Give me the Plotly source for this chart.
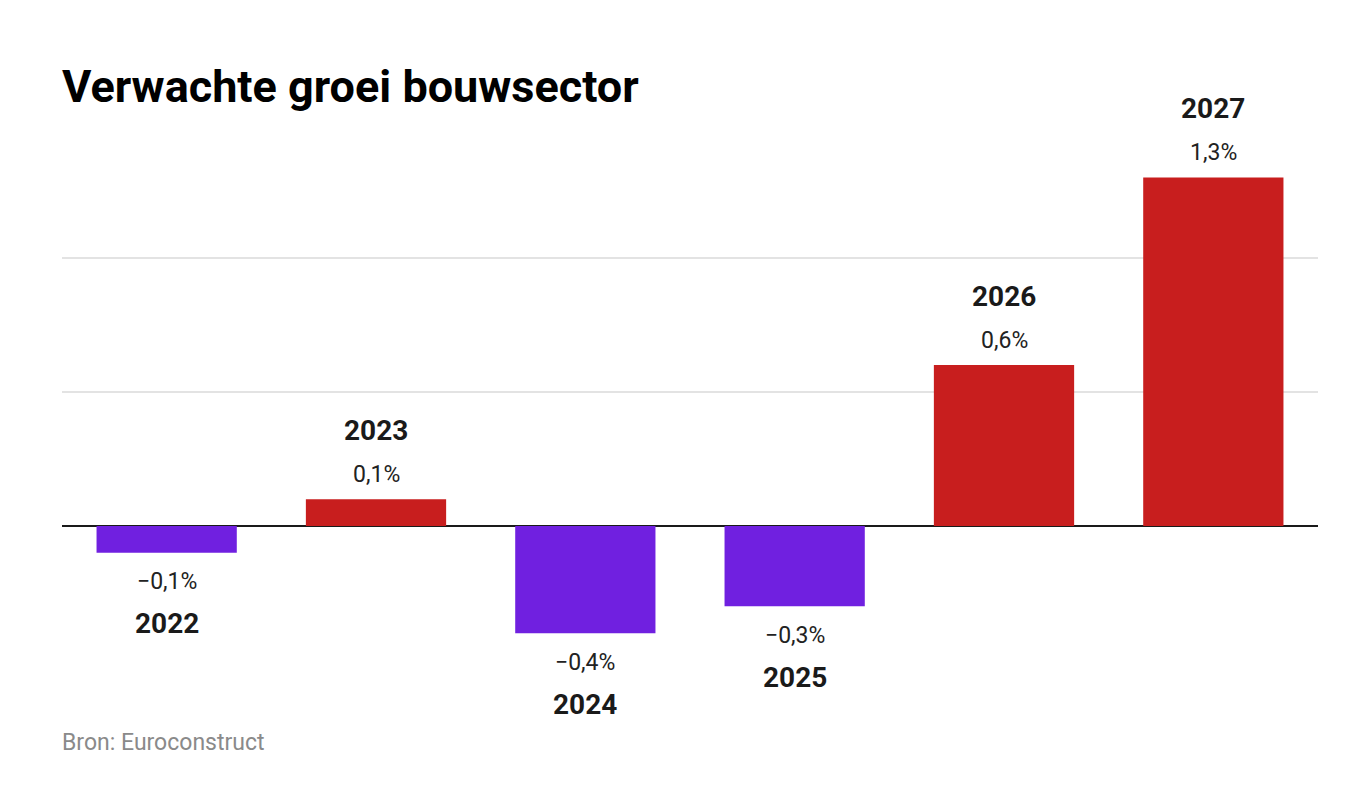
import plotly.graph_objects as go

# Verwachte groei bouwsector (Euroconstruct)
jaren = ["2022", "2023", "2024", "2025", "2026", "2027"]
groei = [-0.1, 0.1, -0.4, -0.3, 0.6, 1.3]
groei_labels = ["−0,1%", "0,1%", "−0,4%", "−0,3%", "0,6%", "1,3%"]

ROOD = "#C81E1E"
PAARS = "#7020E0"
kleuren = [ROOD if v >= 0 else PAARS for v in groei]

fig = go.Figure(go.Bar(
    x=jaren, y=groei, marker=dict(color=kleuren, line=dict(width=0)),
    hoverinfo="skip",
))

# labels boven/onder de staven
for i, (jaar, v, lab) in enumerate(zip(jaren, groei, groei_labels)):
    teken = 1 if v >= 0 else -1
    fig.add_annotation(x=i, y=v, xref="x", yref="y", text=lab, showarrow=False,
                       yanchor="middle", yshift=teken * (25 if v >= 0 else 29),
                       font=dict(family="Roboto", size=23, color="#222222"))
    fig.add_annotation(x=i, y=v, xref="x", yref="y", text="<b>" + jaar + "</b>",
                       showarrow=False, yanchor="middle",
                       yshift=teken * (69 if v >= 0 else 71),
                       font=dict(family="Roboto", size=28, color="#1a1a1a"))

# bron onder de grafiek (plotgebied loopt van y=719 tot 89 in pixels)
fig.add_annotation(x=0, y=-(734 - 719) / 630, xref="paper", yref="paper",
                   xanchor="left", yanchor="middle", showarrow=False, xshift=-2,
                   text="Bron: Euroconstruct",
                   font=dict(family="Roboto", size=23, color="#8a8a8a"))

fig.update_layout(
    width=1365, height=789,
    paper_bgcolor="white", plot_bgcolor="white",
    margin=dict(l=54, r=55, t=89, b=70),
    bargap=0.33,
    showlegend=False,
    title=dict(text="<b>Verwachte groei bouwsector</b>", x=54 / 1365, xanchor="left",
               y=1 - 78 / 789, yanchor="middle",
               font=dict(family="Roboto", size=45, color="#000000")),
    xaxis=dict(type="category", showticklabels=False, showgrid=False, zeroline=False,
               showline=False, range=[-0.5, 5.5], fixedrange=True),
    yaxis=dict(range=[-0.75, 1.6], tickvals=[0.5, 1.0], showticklabels=False,
               showgrid=True, gridcolor="#e3e3e3", gridwidth=1.5,
               zeroline=True, zerolinecolor="#1a1a1a", zerolinewidth=2,
               showline=False, fixedrange=True),
)

fig.write_html("out.html")
